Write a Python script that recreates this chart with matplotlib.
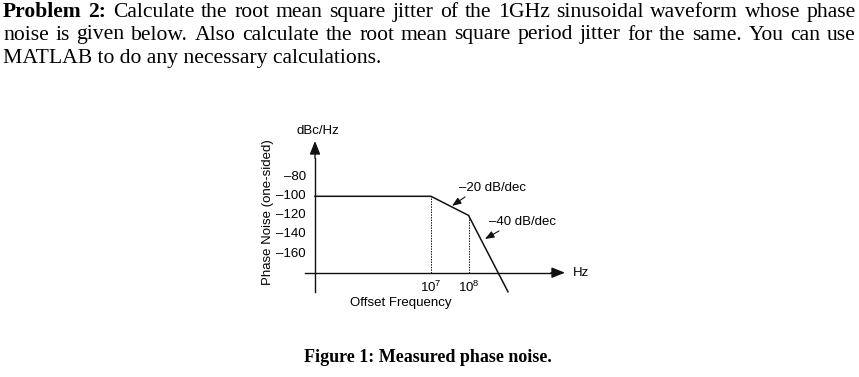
import numpy as np
import matplotlib
matplotlib.use("Agg")
import matplotlib.pyplot as plt
import matplotlib.transforms as mtransforms

# ---------------- data ----------------
curve_freq = [8.07e3, 1e7, 1e8, 1.13e9]          # Hz (schematic breakpoints)
curve_noise = [-100, -100, -120, -200]           # dBc/Hz
ytick_values = [-80, -100, -120, -140, -160]
ytick_labels = ["\u201380", "\u2013100", "\u2013120", "\u2013140", "\u2013160"]
xtick_values = [1e7, 1e8]
xtick_labels = ["$10^7$", "$10^8$"]
slope_labels = ["\u201320 dB/dec", "\u201340 dB/dec"]
slope_text_pos = [(4.5e8, -91.3), (2.84e9, -126.9)]
slope_arrow_from = [(8.07e7, -100.7), (6.5e8, -136.3)]
slope_arrow_to = [(3.63e7, -110.0), (2.75e8, -144.7)]
x_axis_level = -180

line1 = ["Calculate", "the", "root", "mean", "square", "jitter", "of", "the", "1GHz",
         "sinusoidal", "waveform", "whose", "phase"]
line2 = ["noise", "is", "given", "below.", "Also", "calculate", "the", "root", "mean",
         "square", "period", "jitter", "for", "the", "same.", "You", "can", "use"]
line3 = "MATLAB to do any necessary calculations."
caption = "Figure 1: Measured phase noise."

# ---------------- figure ----------------
W, H = 859, 377
plt.rcParams["mathtext.fontset"] = "custom"
plt.rcParams["mathtext.rm"] = "Liberation Sans"
plt.rcParams["mathtext.it"] = "Liberation Sans"
fig = plt.figure(figsize=(W / 100, H / 100), dpi=100)
fig.patch.set_facecolor("white")

def fx(px):
    return px / W

def fy(py):
    return 1 - py / H

SERIF = "Liberation Serif"
SANS = "Liberation Sans"
TOP_FS = 15.6
DFS = 9.5

# --- justified paragraph ---
canvas = fig.canvas
renderer = canvas.get_renderer()
left_px, right_px = 3, 856

def place_justified(words, baseline_py, bold_count=0):
    texts = []
    for i, w in enumerate(words):
        t = fig.text(0, fy(baseline_py), w, fontsize=TOP_FS, family=SERIF,
                     weight="bold" if i < bold_count else "normal", va="baseline", ha="left")
        texts.append(t)
    widths = [t.get_window_extent(renderer).width for t in texts]
    gap = (right_px - left_px - sum(widths)) / (len(words) - 1)
    x = left_px
    for t, w in zip(texts, widths):
        t.set_x(fx(x))
        x += w + gap

place_justified(["Problem", "2:"] + line1, 16.7, bold_count=2)
place_justified(line2, 39.5)
fig.text(fx(left_px), fy(62.5), line3, fontsize=TOP_FS, family=SERIF, va="baseline", ha="left")

fig.text(fx(427.5), fy(362), caption, fontsize=13, family=SERIF, weight="bold",
         ha="center", va="baseline")

# ---------------- diagram axes ----------------
ax_l, ax_r, ax_t, ax_b = 300, 580, 130, 300
ax = fig.add_axes([fx(ax_l), fy(ax_b), fx(ax_r - ax_l), (ax_b - ax_t) / H])
ax.set_xscale("log")
# mapping: xpx = 431 + 37.5*(log10 f - 7); ypx = 196.3 - 0.955*(v + 100)
ax.set_xlim(10 ** (7 + (ax_l - 431) / 37.5), 10 ** (7 + (ax_r - 431) / 37.5))
ax.set_ylim(-100 - (ax_b - 196.3) / 0.955, -100 + (196.3 - ax_t) / 0.955)
ax.axis("off")

lc = "#111111"
# curve
ax.plot(curve_freq, curve_noise, color=lc, lw=1.1, solid_joinstyle="miter", clip_on=False)

# dotted verticals
for f, v in zip(curve_freq[1:3], curve_noise[1:3]):
    ax.plot([f, f], [x_axis_level, v], color=lc, lw=0.7, ls=(0, (1.5, 1.2)), clip_on=False)

# axes with arrows
y_axis_f = curve_freq[0]
ax.plot([y_axis_f, y_axis_f], [-200, -60], color=lc, lw=1.0, clip_on=False)
ax.annotate("", xy=(y_axis_f, -42.1), xytext=(y_axis_f, -60),
            arrowprops=dict(arrowstyle="-|>,head_length=0.8,head_width=0.32", mutation_scale=10,
                            color=lc, lw=1.0, shrinkA=0, shrinkB=0), annotation_clip=False)
ax.plot([10 ** 3.64, 10 ** 10.2], [x_axis_level, x_axis_level], color=lc, lw=1.0, clip_on=False)
ax.annotate("", xy=(10 ** 10.573, x_axis_level), xytext=(10 ** 10.2, x_axis_level),
            arrowprops=dict(arrowstyle="-|>,head_length=0.8,head_width=0.32", mutation_scale=10,
                            color=lc, lw=1.0, shrinkA=0, shrinkB=0), annotation_clip=False)

# y tick labels
blend = mtransforms.blended_transform_factory(fig.transFigure, ax.transData)
for v, lab in zip(ytick_values, ytick_labels):
    fig.text(fx(306), v, lab, transform=blend, fontsize=DFS, family=SANS, ha="right", va="center")

# x tick labels
for f, lab in zip(xtick_values, xtick_labels):
    ax.text(f, -195, lab, fontsize=DFS, family=SANS, ha="center", va="center")

ax.text(10 ** 10.787, x_axis_level, "Hz", fontsize=DFS, family=SANS, ha="left", va="center")
ax.text(10 ** 3.99, -31.6, "dBc/Hz", fontsize=DFS, family=SANS, ha="center", va="center")
ax.text(10 ** 6.2, -211.7, "Offset Frequency", fontsize=DFS, family=SANS, ha="center", va="center")
fig.text(fx(268), fy(212), "Phase Noise (one-sided)", fontsize=DFS, family=SANS, rotation=90,
         ha="center", va="center")

for lab, pos, a_from, a_to in zip(slope_labels, slope_text_pos, slope_arrow_from, slope_arrow_to):
    ax.text(pos[0], pos[1], lab, fontsize=DFS, family=SANS, ha="center", va="center")
    ax.annotate("", xy=a_to, xytext=a_from,
                arrowprops=dict(arrowstyle="-|>,head_length=0.9,head_width=0.35", mutation_scale=6,
                                color=lc, lw=0.8, shrinkA=0, shrinkB=0), annotation_clip=False)

fig.savefig("out.png", dpi=100, facecolor="white")
